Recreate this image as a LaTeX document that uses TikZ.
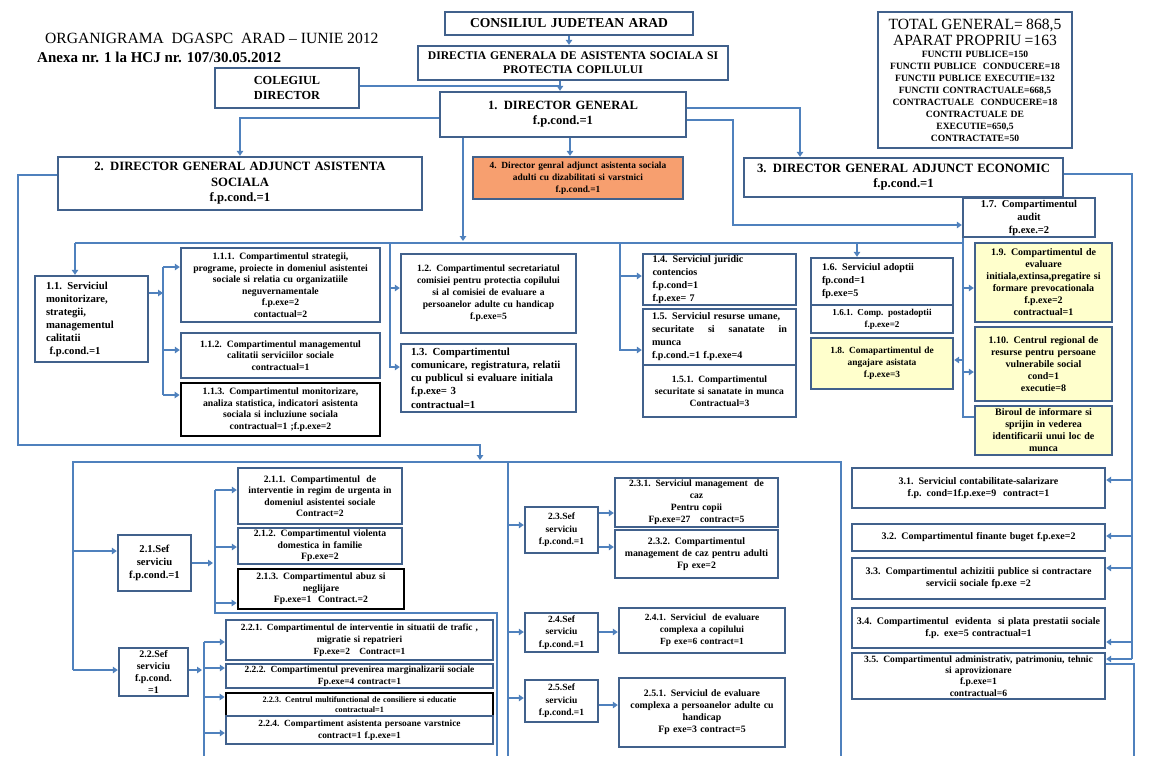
\documentclass[tikz,border=0pt]{standalone}
\usepackage{fontspec}
\setmainfont{Liberation Serif}
\usetikzlibrary{arrows.meta}
\definecolor{connc}{HTML}{4F81BD}
\definecolor{bordc}{HTML}{41618C}
\definecolor{orangec}{HTML}{F79F6F}
\definecolor{yellowc}{HTML}{FFFFCC}
\newcommand\fs[2]{\bfseries\fontsize{#1}{#2}\selectfont}
\newcommand\bx[7][]{%
  \pgfmathsetmacro\bxW{#5-#3}%
  \pgfmathsetmacro\bxH{#6-#4}%
  \pgfmathsetmacro\bxT{#5-#3-4}%
  \pgfmathsetmacro\bxX{(#3+#5)/2}%
  \pgfmathsetmacro\bxY{(#4+#6)/2}%
  \node[box,minimum width=\bxW pt,minimum height=\bxH pt,text width=\bxT pt,#1] (#2) at (\bxX,\bxY) {#7};%
}
\tikzset{
  box/.style={draw=bordc,line width=2.4pt,fill=white,inner sep=0pt,align=center,font=\fs{9.7}{11.5}},
  blackbox/.style={draw=black,line width=2.8pt},
  yel/.style={fill=yellowc},
  conn/.style={draw=connc,line width=2.2pt},
  arr/.style={conn,-{Triangle[length=5pt,width=6.5pt]}},
}
\begin{document}
\begin{tikzpicture}[x=1pt,y=-1pt]
\useasboundingbox[fill=white] (0,0) rectangle (1162,756);

% ---------------- titles
\node[anchor=base west,inner sep=0pt,font=\fontsize{15.6}{17}\selectfont] (title) at (45,43) {ORGANIGRAMA\ \ DGASPC\ \ ARAD -- IUNIE 2012};
\node[anchor=base west,inner sep=0pt,font=\bfseries\fontsize{15}{17}\selectfont] (anexa) at (37,62) {Anexa nr. 1 la HCJ nr. 107/30.05.2012};

% ---------------- top boxes
\bx[font=\fs{13.6}{15}]{cons}{445}{12}{693}{35}{CONSILIUL JUDETEAN ARAD}
\bx[font=\fs{11.7}{14}]{dgas}{418}{46}{728}{80}{DIRECTIA GENERALA DE ASISTENTA SOCIALA SI\\PROTECTIA COPILULUI}
\bx[font=\fs{12.3}{15}]{coleg}{215}{68}{359}{108}{COLEGIUL\\DIRECTOR}
\bx[font=\fs{12.6}{15}]{dg}{440}{92}{686}{137}{1. DIRECTOR GENERAL\\f.p.cond.=1}
\bx[font=\fs{9.6}{11.9}]{total}{878}{12}{1072}{148}{{\mdseries\fontsize{15.6}{16}\selectfont TOTAL GENERAL= 868,5\\[0pt]APARAT PROPRIU =163\\[1pt]}FUNCTII PUBLICE=150\\FUNCTII PUBLICE\ \ CONDUCERE=18\\FUNCTII PUBLICE EXECUTIE=132\\FUNCTII CONTRACTUALE=668,5\\CONTRACTUALE\ \ CONDUCERE=18\\CONTRACTUALE DE\\EXECUTIE=650,5\\CONTRACTATE=50}
\bx[font=\fs{12.7}{15.5}]{d2}{58}{157}{422}{210}{2. DIRECTOR GENERAL ADJUNCT ASISTENTA\\SOCIALA\\f.p.cond.=1}
\bx[fill=orangec,font=\fs{9.4}{12}]{d4}{473}{157}{683}{199}{4. Director genral adjunct asistenta sociala\\adulti cu dizabilitati si varstnici\\f.p.cond.=1}
\bx[font=\fs{12.7}{15}]{d3}{744}{158}{1063}{197}{3. DIRECTOR GENERAL ADJUNCT ECONOMIC\\f.p.cond.=1}

% ---------------- level 1
\bx[align=left,text width=91pt,font=\fs{10.7}{13}]{n11}{35}{276}{148}{362}{1.1. Serviciul\\monitorizare,\\strategii,\\managementul\\calitatii\\\ f.p.cond.=1}
\bx{n111}{181}{248}{380}{322}{1.1.1. Compartimentul strategii,\\programe, proiecte in domeniul asistentei\\sociale si relatia cu organizatiile\\neguvernamentale\\f.p.exe=2\\contactual=2}
\bx{n112}{181}{333}{380}{378}{1.1.2. Compartimentul managementul\\calitatii serviciilor sociale\\contractual=1}
\bx[blackbox]{n113}{181}{383}{380}{436}{1.1.3. Compartimentul monitorizare,\\analiza statistica, indicatori asistenta\\sociala si incluziune sociala\\contractual=1 ;f.p.exe=2}
\bx[font=\fs{9.6}{12}]{n12}{401}{254}{576}{333}{1.2. Compartimentul secretariatul\\comisiei pentru protectia copilului\\si al comisiei de evaluare a\\persoanelor adulte cu handicap\\f.p.exe=5}
\bx[align=left,text width=155pt,font=\fs{10.8}{13.2}]{n13}{401}{344}{576}{412}{1.3. Compartimentul\\comunicare, registratura, relatii\\cu publicul si evaluare initiala\\f.p.exe= 3\\contractual=1}
\bx[align=left,text width=134pt,font=\fs{10.1}{13}]{n14}{643}{254}{796}{305}{1.4. Serviciul juridic\\contencios\\f.p.cond=1\\f.p.exe= 7}
\bx[align=left,text width=135pt,font=\fs{10.1}{13}]{n15}{643}{309}{796}{365}{1.5. Serviciul resurse umane,\\securitate\hfill si\hfill sanatate\hfill in\\munca\\f.p.cond.=1 f.p.exe=4}
\bx[font=\fs{9.6}{12}]{n151}{643}{365}{796}{417}{1.5.1. Compartimentul\\securitate si sanatate in munca\\Contractual=3}
\bx[align=left,text width=120pt,font=\fs{10.1}{13}]{n16}{811}{258}{953}{305}{1.6. Serviciul adoptii\\fp.cond=1\\fp.exe=5}
\bx[font=\fs{9.1}{12}]{n161}{811}{305}{953}{333}{1.6.1. Comp. postadoptii\\f.p.exe=2}
\bx[yel,font=\fs{9.4}{12}]{n18}{811}{338}{953}{389}{1.8. Comapartimentul de\\angajare asistata\\f.p.exe=3}
\bx[font=\fs{10.5}{13}]{n17}{963}{198}{1095}{237}{1.7. Compartimentul\\audit\\fp.exe.=2}
\bx[yel,font=\fs{10}{12}]{n19}{975}{243}{1112}{322}{1.9. Compartimentul de\\evaluare\\initiala,extinsa,pregatire si\\formare prevocationala\\f.p.exe=2\\contractual=1}
\bx[yel,font=\fs{10}{12}]{n110}{975}{327}{1112}{401}{1.10. Centrul regional de\\resurse pentru persoane\\vulnerabile social\\cond=1\\executie=8}
\bx[yel,font=\fs{10}{12}]{birou}{975}{406}{1112}{455}{Biroul de informare si\\sprijin in vederea\\identificarii unui loc de\\munca}

% ---------------- level 2
\bx[font=\fs{10.6}{13}]{n21}{118}{535}{191}{591}{2.1.Sef\\serviciu\\f.p.cond.=1}
\bx{n211}{238}{468}{402}{524}{2.1.1. Compartimentul\ \ de\\interventie in regim de urgenta in\\domeniul asistentei sociale\\Contract=2}
\bx{n212}{238}{528}{402}{564}{2.1.2. Compartimentul violenta\\domestica in familie\\Fp.exe=2}
\bx[blackbox]{n213}{238}{569}{404}{609}{2.1.3. Compartimentul abuz si\\neglijare\\Fp.exe=1\ \ Contract.=2}
\bx[font=\fs{10}{12}]{n22}{119}{648}{188}{696}{2.2.Sef\\serviciu\\f.p.cond.\\=1}
\bx[font=\fs{9.4}{12}]{n221}{226}{620}{493}{660}{2.2.1. Compartimentul de interventie in situatii de trafic ,\\migratie si repatrieri\\Fp.exe=2\ \ \ Contract=1}
\bx[font=\fs{9.4}{11.5}]{n222}{226}{664}{493}{688}{2.2.2. Compartimentul prevenirea marginalizarii sociale\\Fp.exe=4 contract=1}
\bx[blackbox,font=\fs{8.2}{10.5}]{n223}{226}{693}{493}{716}{2.2.3. Centrul multifunctional de consiliere si educatie\\contractual=1}
\bx[font=\fs{9.4}{12}]{n224}{226}{716}{493}{744}{2.2.4. Compartiment asistenta persoane varstnice\\contract=1 f.p.exe=1}
\bx[font=\fs{9.5}{12.5}]{n23}{525}{507}{598}{553}{2.3.Sef\\serviciu\\f.p.cond.=1}
\bx[font=\fs{9.6}{12}]{n231}{615}{478}{778}{527}{2.3.1. Serviciul management\ \ de\\caz\\Pentru copii\\Fp.exe=27\ \ \ contract=5}
\bx[font=\fs{9.8}{12}]{n232}{615}{530}{778}{578}{2.3.2. Compartimentul\\management de caz pentru adulti\\Fp exe=2}
\bx[font=\fs{9.5}{12.5}]{n24}{525}{613}{598}{652}{2.4.Sef\\serviciu\\f.p.cond.=1}
\bx[font=\fs{9.4}{12}]{n241}{619}{608}{785}{653}{2.4.1. Serviciul\ \ de evaluare\\complexa a copilului\\Fp exe=6 contract=1}
\bx[font=\fs{9.5}{12.5}]{n25}{525}{680}{598}{722}{2.5.Sef\\serviciu\\f.p.cond.=1}
\bx[font=\fs{9.8}{12}]{n251}{619}{678}{785}{747}{2.5.1. Serviciul de evaluare\\complexa a persoanelor adulte cu\\handicap\\Fp exe=3 contract=5}

% ---------------- level 3
\bx[font=\fs{10}{12}]{n31}{852}{468}{1105}{508}{3.1. Serviciul contabilitate-salarizare\\f.p. cond=1f.p.exe=9\ \ contract=1}
\bx[font=\fs{10}{12}]{n32}{852}{524}{1105}{551}{3.2. Compartimentul finante buget f.p.exe=2}
\bx[font=\fs{10}{12}]{n33}{852}{558}{1105}{599}{3.3. Compartimentul achizitii publice si contractare\\servicii sociale fp.exe =2}
\bx[font=\fs{10}{12}]{n34}{852}{608}{1105}{648}{3.4. Compartimentul\ \ evidenta\ \ si plata prestatii sociale\\f.p. exe=5 contractual=1}
\bx[font=\fs{9.6}{11.3}]{n35}{852}{653}{1105}{699}{3.5. Compartimentul administrativ, patrimoniu, tehnic\\si aprovizionare\\f.p.exe=1\\contractual=6}

% ---------------- connectors: top
\draw[arr] (cons.south) -- (dgas.north -| cons.south);
\draw[arr] (dgas.south -| 560,0) -- (dg.north -| 560,0);
\coordinate (jcol) at (560,86);
\draw[conn] (coleg.east |- jcol) -- (jcol);
\draw[arr] (dg.west |- 0,118) -| (d2.north -| 240,0);
\draw[arr] (dg.south -| 570,0) -- (d4.north -| 570,0);
\draw[arr] (dg.east |- 0,108) -| (d3.north -| 800,0);
\draw[arr] (dg.east |- 0,120) -| (733,225) -- (n17.west |- 0,225);

% bus level 1
\coordinate (busL) at (75,243);
\coordinate (busR) at (963,243);
\draw[arr] (dg.south -| 463,0) -- (463,241);
\draw[conn] (busL) -- (busR);
\draw[arr] (busL) -- (n11.north -| busL);
\draw[arr] (390,243) |- (n12.west |- 0,288);
\draw[arr] (390,243) |- (n13.west |- 0,367);
\draw[arr] (620,243) |- (n14.west |- 0,276);
\draw[arr] (620,243) |- (n15.west |- 0,350);
\draw[arr] (857,243) -- (n16.north -| 857,0);
% 1.1 group
\draw[arr] (n11.east |- 0,293) -- (163,293);
\draw[conn] (163,267) -- (163,395);
\draw[arr] (163,267) -- (n111.west |- 0,267);
\draw[arr] (163,350) -- (n112.west |- 0,350);
\draw[arr] (163,395) -- (n113.west |- 0,395);
% audit spine
\draw[conn] (n17.south -| 963,0) -- (963,417) -- (birou.west |- 0,417);
\draw[arr] (963,288) -- (n19.west |- 0,288);
\draw[arr] (963,372) -- (n110.west |- 0,372);
\draw[arr] (963,360) -- (n18.east |- 0,360);
% economic spine
\draw[conn] (d3.east |- 0,174) -| (1132,659);
\draw[arr] (1132,480) -- (n31.east |- 0,480);
\draw[arr] (1132,536) -- (n32.east |- 0,536);
\draw[arr] (1132,568) -- (n33.east |- 0,568);
\draw[arr] (1132,642) -- (n34.east |- 0,642);
\draw[arr] (1132,659) -- (n35.east |- 0,659);
\draw[conn] (n35.east |- 0,664) -- (1134,664) -- (1134,756);

% social spine
\draw[arr] (d2.west |- 0,175) -| (18,445) -| (480,460);
\draw[conn] (73,670) -- (73,462) -- (841,462) -- (841,756);
\draw[arr] (73,551) -- (n21.west |- 0,551);
\draw[arr] (73,670) -- (n22.west |- 0,670);
\draw[conn] (508,462) -- (508,756);
\draw[arr] (508,525) -- (n23.west |- 0,525);
\draw[arr] (508,632) -- (n24.west |- 0,632);
\draw[arr] (508,698) -- (n25.west |- 0,698);
% 2.1 group
\draw[arr] (n21.east |- 0,563) -- (213,563);
\draw[conn] (215,490) -- (215,613) -- (497,613) -- (497,756);
\draw[arr] (215,490) -- (n211.west |- 0,490);
\draw[arr] (215,547) -- (n212.west |- 0,547);
\draw[arr] (215,603) -- (n213.west |- 0,603);
% 2.2 group
\draw[arr] (n22.east |- 0,670) -- (202,670);
\draw[conn] (204,642) -- (204,756);
\draw[arr] (204,642) -- (n221.west |- 0,642);
\draw[arr] (204,668) -- (n222.west |- 0,668);
\draw[arr] (204,697) -- (n223.west |- 0,697);
\draw[arr] (204,733) -- (n224.west |- 0,733);
% 2.3 - 2.5
\draw[arr] (n23.east |- 0,513) -- (n231.west |- 0,513);
\draw[arr] (n23.east |- 0,547) -- (n232.west |- 0,547);
\draw[arr] (n24.east |- 0,632) -- (n241.west |- 0,632);
\draw[arr] (n25.east |- 0,705) -- (n251.west |- 0,705);
\end{tikzpicture}
\end{document}
